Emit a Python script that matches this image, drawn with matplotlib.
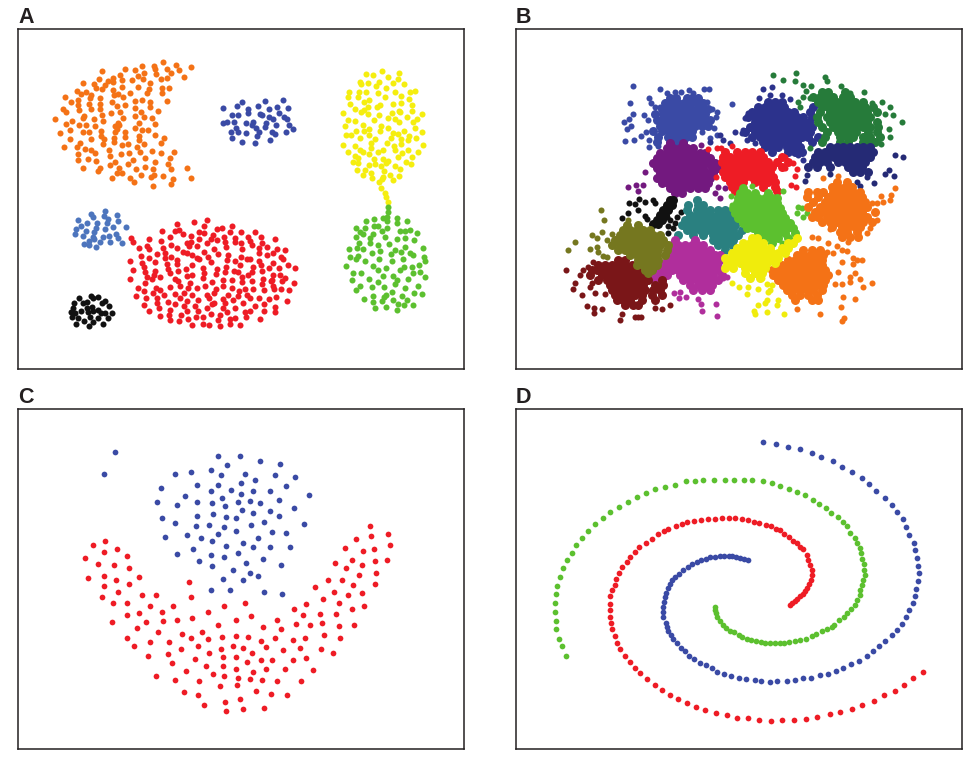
#!/usr/bin/env python3
"""
Four clustering scatter panels (A-D)
Values were read off the picture, in magnified crop units (3 units = 1 pixel)
"""

import matplotlib
matplotlib.use("Agg")
import matplotlib.pyplot as plt

# Panel A, crop origins differ per group
a_orange = [(368,36),(407,46),(453,50),(306,49),(341,48),(346,57),(380,56),(417,59),(285,59),(256,56),(185,62),(313,69),(348,72),(393,68),(293,77),(241,75),(178,86),(220,85),(310,86),(362,88),(382,84),(432,82),(276,91),(245,91),(218,97),(203,92),(128,100),(161,101),(196,104),(330,98),(246,110),(293,111),(168,113),(186,118),(220,119),(326,116),(365,113),(388,113),(111,124),(123,132),(138,127),(153,134),(235,131),(270,129),(321,129),(367,129),(74,140),(149,145),(181,143),(221,136),(248,141),(114,149),(94,155),(148,161),(216,155),(286,152),(305,151),(331,155),(382,153),(113,166),(179,163),(230,168),(256,165),(331,171),(116,181),(68,178),(78,185),(153,177),(181,178),(286,175),(213,188),(241,187),(303,187),(355,184),(186,194),(131,199),(128,204),(286,199),(313,201),(336,203),(46,206),(163,207),(190,212),(250,204),(96,213),(298,219),(345,222),(78,222),(118,226),(138,226),(166,228),(233,220),(224,229),(238,226),(286,235),(306,241),(325,239),(91,241),(128,245),(148,245),(183,244),(230,238),(224,247),(256,247),(61,248),(182,257),(256,262),(296,258),(346,255),(372,264),(89,267),(153,268),(193,266),(222,265),(296,270),(221,277),(121,280),(190,283),(246,284),(263,282),(311,282),(363,280),(111,290),(73,292),(136,296),(154,299),(291,292),(208,299),(166,308),(301,306),(335,302),(402,305),(114,312),(243,312),(266,308),(362,309),(211,318),(315,324),(390,323),(113,330),(144,328),(168,334),(226,337),(280,331),(346,337),(385,341),(128,353),(179,354),(173,363),(211,346),(236,354),(265,341),(288,356),(315,351),(340,357),(393,356),(442,354),(231,370),(246,369),(303,375),(342,375),(333,381),(370,378),(216,383),(270,383),(398,386),(452,385),(281,397),(393,401),(340,407)]
a_blue = [(40,145),(97,125),(82,138),(145,137),(164,123),(219,119),(177,147),(202,142),(234,145),(114,146),(114,160),(65,164),(84,166),(150,161),(155,166),(178,170),(190,178),(206,160),(222,170),(232,176),(72,185),(40,190),(50,186),(109,189),(130,185),(125,196),(169,189),(165,201),(197,196),(236,196),(249,208),(77,205),(139,205),(62,217),(85,217),(109,218),(148,215),(186,216),(196,222),(229,216),(65,233),(140,229),(181,239),(97,245),(135,249)]
a_yellow = [(516,33),(468,43),(488,46),(566,40),(535,52),(449,65),(452,72),(475,70),(506,65),(563,58),(548,68),(581,72),(499,78),(529,83),(416,96),(447,97),(468,96),(505,99),(555,96),(601,97),(616,93),(413,112),(443,112),(526,112),(573,109),(598,118),(461,126),(478,121),(420,132),(550,131),(573,129),(606,135),(510,134),(502,141),(475,142),(434,147),(461,150),(452,155),(546,158),(568,152),(569,157),(607,153),(399,160),(475,163),(508,164),(636,161),(590,170),(413,180),(436,182),(491,180),(535,174),(556,176),(566,187),(621,177),(610,187),(404,198),(458,195),(513,198),(511,212),(478,208),(461,214),(438,212),(535,205),(548,218),(565,222),(581,212),(616,205),(635,215),(408,225),(423,225),(478,226),(449,234),(543,233),(574,236),(596,228),(593,240),(618,234),(496,238),(398,256),(484,250),(530,250),(574,253),(638,254),(434,259),(484,265),(553,258),(555,270),(595,271),(577,279),(450,270),(460,275),(413,276),(503,277),(520,271),(625,276),(478,282),(435,288),(445,293),(565,292),(606,291),(428,307),(444,308),(491,298),(520,296),(535,302),(588,305),(476,314),(494,313),(603,313),(527,310),(556,318),(513,319),(441,329),(464,331),(522,332),(570,328),(483,340),(459,345),(541,345),(568,349),(485,353),(518,350),(515,358),(550,359),(508,367),(513,384),(524,398),(527,412),(535,425)]
a_green = [(534,442),(534,455),(519,473),(530,470),(530,483),(491,477),(469,484),(561,474),(591,483),(561,490),(439,503),(465,505),(493,497),(503,498),(531,503),(449,515),(458,521),(516,514),(570,512),(584,512),(601,511),(620,518),(439,531),(490,523),(481,533),(526,530),(560,537),(586,533),(612,541),(446,549),(479,549),(536,553),(416,566),(441,564),(458,567),(503,556),(556,569),(586,560),(639,563),(486,579),(510,573),(573,577),(601,580),(420,592),(445,587),(439,597),(543,583),(610,585),(641,590),(464,602),(508,598),(545,604),(578,596),(645,602),(409,617),(490,617),(504,630),(527,625),(571,629),(583,622),(605,620),(626,614),(430,638),(454,640),(518,647),(610,640),(630,636),(645,650),(427,659),(476,658),(550,649),(560,660),(555,673),(593,656),(505,666),(450,677),(485,681),(521,680),(586,684),(625,678),(439,690),(546,696),(611,698),(636,703),(528,704),(576,707),(521,712),(461,716),(490,708),(516,722),(489,726),(548,719),(590,719),(565,731),(581,736),(608,735),(494,744),(528,742),(561,751)]
a_red = [(442,59),(402,67),(352,72),(432,78),(472,87),(485,85),(516,77),(213,113),(220,127),(266,117),(305,93),(344,92),(358,90),(368,103),(392,109),(418,95),(432,100),(460,104),(453,116),(472,120),(492,112),(509,95),(544,96),(586,95),(602,110),(524,113),(525,126),(565,110),(570,123),(644,116),(329,111),(333,135),(302,124),(260,137),(268,147),(238,143),(392,125),(388,137),(380,130),(418,118),(410,137),(440,130),(433,155),(462,146),(495,127),(498,142),(543,130),(545,147),(575,134),(605,130),(598,143),(622,142),(652,147),(674,149),(310,145),(315,160),(290,162),(370,155),(352,143),(380,160),(352,180),(332,170),(243,168),(268,173),(211,182),(245,188),(286,187),(315,175),(350,192),(410,175),(395,165),(418,178),(445,172),(453,186),(473,163),(503,165),(500,180),(525,182),(543,170),(562,178),(570,178),(598,160),(598,182),(620,165),(640,160),(664,170),(668,178),(603,194),(640,190),(684,194),(705,203),(658,205),(627,203),(580,202),(575,215),(607,212),(540,195),(497,200),(472,208),(428,203),(433,218),(395,195),(377,207),(322,193),(323,208),(252,200),(256,215),(220,210),(285,212),(283,225),(330,218),(355,213),(380,228),(395,225),(430,235),(467,222),(495,215),(523,212),(535,215),(545,232),(565,225),(610,238),(640,225),(636,240),(660,225),(674,233),(667,243),(702,248),(211,238),(260,232),(275,238),(255,250),(300,230),(345,238),(353,243),(390,250),(455,245),(490,240),(517,241),(547,247),(575,243),(632,243),(640,258),(606,252),(235,264),(253,272),(287,263),(300,270),(280,278),(330,262),(360,258),(385,263),(410,263),(435,257),(467,268),(490,258),(515,265),(536,272),(556,268),(580,267),(612,270),(642,268),(663,268),(686,270),(228,287),(312,285),(292,293),(345,283),(372,278),(397,285),(440,285),(447,295),(462,280),(490,297),(505,285),(535,288),(562,285),(598,293),(627,296),(648,290),(682,302),(258,295),(290,308),(325,305),(360,295),(380,303),(415,300),(455,313),(463,308),(495,310),(518,300),(548,308),(570,295),(612,312),(253,316),(345,313),(372,318),(405,318),(440,323),(490,325),(500,335),(525,323),(585,318),(645,322),(645,337),(266,334),(297,325),(330,330),(380,332),(363,345),(415,332),(452,342),(480,345),(555,336),(570,333),(612,332),(300,347),(327,345),(385,356),(408,352),(430,352),(475,360),(510,358),(525,355),(557,352),(600,357),(330,360),(358,364),(397,375),(428,372),(448,375),(480,378),(510,372),(540,375)]
a_light = [(135,34),(93,42),(100,50),(170,46),(132,48),(54,60),(145,58),(175,64),(81,68),(110,70),(140,70),(64,78),(47,87),(77,92),(108,85),(136,88),(160,82),(198,82),(45,102),(70,107),(103,97),(100,110),(130,110),(146,107),(167,102),(174,115),(88,122),(72,133),(87,135),(103,117),(119,127),(150,127),(187,128),(109,142)]
a_black = [(57,293),(94,287),(113,292),(136,303),(43,310),(70,310),(80,305),(100,295),(127,310),(146,318),(40,325),(62,332),(97,322),(100,332),(115,330),(83,335),(34,337),(36,350),(157,340),(135,340),(122,338),(55,355),(90,350),(115,355),(143,353),(71,363),(100,367),(48,372),(86,377),(130,372),(80,325),(45,340)]

# Panel B, dense blobs kept as (y, [x, x, ...]) rows plus loose points
b_blue_rows = [(115,[345,362,395,412,428]),(130,[330,350,370,388,405,425,445]),(147,[320,338,355,372,390,408,425,442,460]),(163,[300,325,342,360,377,395,412,430,450]),(180,[305,322,340,357,375,392,410,428,445,465]),(197,[315,332,350,368,385,402,420,440,458]),(213,[295,322,342,360,378,395,412]),(230,[310,340,358,375,393,412]),(245,[305,345,365,385])]
b_blue_loose = [(235,77),(316,87),(224,128),(233,163),(207,185),(222,178),(217,208),(229,198),(210,243),(237,240),(531,131),(283,113),(288,130),(268,165),(278,180),(272,215),(258,227),(283,240),(282,262),(310,258),(300,140),(315,140),(335,100),(360,97),(378,95),(403,90),(415,100),(447,88),(461,88),(425,120),(455,127),(470,147),(485,155),(482,172),(478,205),(485,225),(440,215),(465,235)]
b_navy_rows = [(125,[640,660,680]),(140,[610,630,650,668,686,775]),(155,[590,608,626,644,662,680,698,716,765]),(170,[580,600,618,636,654,672,690,708,726,744,770]),(185,[600,618,636,654,672,690,708,726,744,762]),(200,[585,610,628,646,664,682,700,718,736,754,772]),(215,[570,600,620,638,656,674,692,710,728,746,764]),(230,[590,615,632,650,668,686,704,722,740,758,790]),(245,[625,645,663,681,705,725,770]),(260,[630,650,670,695,715,735]),(275,[650,700,720,740])]
b_navy_loose = [(625,87),(650,82),(645,105),(680,105),(705,118),(612,113),(540,217),(465,245),(495,225),(505,240),(525,248),(570,175),(580,160),(560,220),(575,240),(600,250),(565,210),(730,285),(745,300)]
b_forest_rows = [(95,[800,820,870]),(110,[775,795,815,835,865,885]),(125,[790,810,828,846,864,882,900,925]),(140,[800,820,838,856,874,892,910,930,955]),(155,[795,825,843,861,879,897,915,935,965]),(170,[785,815,833,851,869,887,905,925,945]),(185,[790,825,843,861,879,897,915,935,965]),(200,[800,835,853,871,889,907,925,945,970]),(215,[815,850,868,886,904,940,965]),(230,[810,855,875,895,925,945,975]),(245,[800,855,880,925,945,960])]
b_forest_loose = [(654,44),(683,59),(724,38),(720,62),(743,74),(767,77),(752,93),(810,50),(817,62),(858,78),(927,96),(982,125),(1005,141),(952,130),(990,162),(1015,165),(1042,185),(1003,207),(1006,230),(978,252),(765,265),(730,125),(735,140),(745,110),(765,115),(885,100)]
b_dark_rows = [(260,[825,845,865,885,905,925,945]),(275,[790,810,828,846,864,882,900,918,936,955]),(290,[780,800,818,836,854,872,890,908,926,945]),(305,[775,795,815,850,870,890,910,930]),(320,[760,785,825,880,900,920]),(335,[895,915,940])]
b_dark_loose = [(1019,284),(1045,291),(1002,330),(990,342),(1018,349),(958,370),(750,362),(755,345),(825,342),(905,365),(915,378),(935,350)]
b_purple_rows = [(250,[345,385]),(265,[335,355,375,395,415]),(280,[315,335,355,375,395,415,435,450]),(295,[305,325,345,365,385,405,425,445,465]),(310,[295,318,338,358,378,398,418,438,458,480]),(325,[305,325,345,365,385,405,425,445,470,490]),(340,[315,335,355,375,395,415,435,455,475]),(355,[305,325,345,365,385,405,425,445,465]),(370,[320,340,360,380,400,420,440,460]),(385,[345,365,385,405,430,450]),(400,[360,380])]
b_purple_loose = [(270,336),(220,381),(243,375),(265,375),(250,393),(437,255),(490,380),(510,385),(480,400),(495,415)]
b_red_rows = [(275,[510,545,570,590,615]),(290,[505,525,545,565,585,605,625,680]),(305,[500,520,540,560,580,600,620,640,665,700]),(320,[510,530,550,570,590,610,630,650,680]),(335,[505,525,545,565,585,605,625,645]),(350,[510,530,550,570,590,610,630,655]),(365,[525,545,565,600,620,640,660]),(380,[530,550,625,660]),(392,[540,555,665])]
b_red_loose = [(460,268),(485,265),(497,264),(530,258),(482,350),(725,328),(720,348),(708,375),(724,380),(690,290),(715,308),(690,325)]
b_black_rows = [(420,[345,355]),(435,[335,350]),(450,[325,340]),(465,[315,330]),(480,[305,320]),(492,[295,310])]
b_black_loose = [(223,430),(240,432),(253,417),(270,425),(295,420),(300,430),(250,450),(270,468),(275,478),(218,460),(200,473),(345,480),(360,490),(355,505),(340,520),(365,470),(378,455),(340,498),(335,470)]
b_teal_rows = [(420,[425]),(435,[400,430,445]),(450,[395,425,445,465,490,510]),(465,[405,425,445,465,485,505,525]),(480,[390,410,430,450,470,490,510,530]),(495,[380,400,420,440,460,480,500,520,540]),(510,[395,415,435,455,475,495,515,535,560]),(525,[370,415,445,475,495,515,535,550]),(540,[475,495,515,535]),(555,[490,510,530]),(570,[510])]
b_lime_rows = [(385,[565]),(400,[555,575,600,640]),(415,[550,570,590,610,630,650,665]),(430,[545,565,585,605,625,645,665]),(445,[535,555,575,595,615,635,655,675]),(460,[540,560,580,600,620,640,660,680]),(475,[550,570,590,610,630,650,670,690]),(490,[565,585,605,625,645,665,685,705]),(505,[575,595,615,635,655,675,695,715]),(520,[610,630,650,670,690,720]),(535,[630,650,670,700]),(550,[650])]
b_lime_loose = [(528,408),(555,405),(590,378),(685,392),(730,440),(742,445),(725,460),(745,470),(755,460),(680,550),(690,560),(530,435)]
b_orange_rows = [(365,[845,875]),(380,[830,850,870,890]),(395,[760,785,805,835,855,875,895,915]),(410,[755,790,820,840,860,880,900,920]),(425,[775,810,830,850,870,890,910,930]),(440,[760,795,815,835,855,875,895,915,935]),(455,[780,800,820,840,860,880,900,920,960]),(470,[770,790,815,835,855,875,895,915,935]),(485,[800,825,845,865,885,905,925,950]),(500,[830,860,880,900,915]),(515,[855,875,905]),(530,[860,885,910])]
b_orange_loose = [(1020,384),(1008,406),(1005,420),(978,408),(985,425),(965,428),(950,430),(965,480),(945,505),(935,518),(770,530),(790,535),(825,508),(880,545),(850,348),(805,355)]
b_magenta_rows = [(540,[360,420]),(555,[350,370,390,410,430,445]),(570,[345,365,385,405,425,445,465]),(585,[340,360,380,400,420,440,460,480,495]),(600,[335,355,375,395,415,435,455,475,495]),(615,[325,345,365,385,405,425,445,465,485]),(630,[310,330,350,370,390,410,430,450,470,490]),(645,[295,315,335,375,395,415,435,455,475,500]),(660,[300,320,385,405,425,445,465,490]),(675,[315,405,430,450,470]),(690,[415,440,465])]
b_magenta_loose = [(358,700),(375,695),(372,715),(393,710),(430,718),(438,732),(483,733),(440,753),(485,768),(505,655),(515,650)]
b_maroon_rows = [(600,[190,210]),(615,[130,150,170,190,210,230]),(630,[110,125,145,165,185,205,225,245]),(645,[105,140,160,180,200,220,240,260]),(660,[130,155,175,195,215,235,255,280,320]),(675,[165,185,205,225,245,265,300,325]),(690,[170,190,210,230,250,270,295,315]),(705,[180,200,220,240,260,290,320]),(720,[185,205,225,260,300]),(735,[210,235,250])]
b_maroon_loose = [(32,631),(75,645),(60,670),(53,688),(80,705),(95,738),(118,745),(118,760),(140,748),(200,763),(195,780),(240,770),(258,772),(248,772),(300,745),(320,748),(345,735),(85,630),(100,620),(115,605),(110,668),(105,680),(120,700),(150,703)]
b_olive_rows = [(495,[215,250]),(510,[205,225,245,265,285]),(525,[195,215,235,255,275,295,315]),(540,[180,205,225,245,265,285,305,325]),(555,[170,195,215,235,255,275,295,315,340]),(570,[190,210,230,250,270,290,310,335]),(585,[225,245,265,285,305,330]),(600,[250,270,290,310]),(615,[245,265,285,305]),(630,[270,290]),(640,[280])]
b_olive_loose = [(137,449),(148,480),(140,515),(110,525),(125,535),(155,540),(172,522),(60,546),(40,570),(105,568),(125,560),(130,575),(145,588),(155,590),(220,480)]
b_orange2_rows = [(570,[745,770,795]),(585,[725,745,765,785,805]),(600,[700,720,740,760,780,800]),(615,[680,700,720,740,760,780,800]),(630,[650,670,690,710,730,750,770,790,810]),(645,[655,675,695,715,735,755,775,795,820]),(660,[670,690,710,730,750,770,790,810]),(675,[685,705,725,745,765,785,805]),(690,[695,715,735,755,775,800]),(705,[710,735,760,785]),(720,[720,770,790])]
b_orange2_loose = [(820,548),(845,558),(860,570),(875,572),(815,575),(835,580),(862,605),(893,595),(905,600),(922,600),(895,612),(850,635),(900,638),(885,650),(915,656),(840,672),(860,672),(885,665),(950,668),(925,680),(863,712),(900,718),(858,742),(868,775),(860,782),(795,763),(727,747)]
b_yellow_rows = [(535,[590,605,725]),(550,[565,585,605,625,700,715]),(565,[545,565,585,605,625,645,680,700]),(580,[530,550,570,590,610,630,650,670,690]),(595,[510,530,550,570,590,610,630,650,670]),(610,[515,535,555,575,595,615,635,660]),(625,[510,535,570,590,610,630]),(640,[570,600,620]),(655,[585,615])]
b_yellow_loose = [(530,668),(552,682),(578,680),(575,702),(608,688),(620,655),(635,672),(650,675),(638,695),(635,720),(630,730),(670,720),(665,735),(608,735),(597,752),(600,762),(636,757),(686,763),(645,690)]

# Panel C
c_blue = [(135,36),(101,103),(445,48),(509,48),(569,62),(629,71),(472,74),(422,89),(362,97),(315,103),(452,106),(525,103),(616,106),(676,112),(555,121),(512,129),(445,135),(382,135),(272,144),(649,138),(422,153),(482,150),(549,153),(599,153),(512,161),(345,167),(455,173),(716,164),(262,186),(322,194),(382,186),(425,188),(465,197),(505,186),(539,183),(569,188),(626,180),(515,209),(672,203),(429,221),(549,218),(599,212),(275,235),(382,229),(469,232),(499,235),(626,229),(315,250),(378,258),(418,255),(462,261),(542,255),(582,247),(702,253),(499,273),(606,276),(445,282),(649,279),(285,290),(352,285),(392,293),(425,302),(565,293),(519,308),(469,317),(549,322),(599,320),(659,320),(368,328),(322,343),(422,346),(462,352),(505,340),(388,363),(579,357),(529,369),(425,378),(632,375),(489,389),(539,398),(565,407),(459,416),(519,421),(422,451),(479,451),(582,456),(636,462)]
c_red = [(105,302),(68,314),(101,337),(141,328),(44,354),(171,349),(84,372),(131,375),(178,384),(54,413),(101,407),(138,419),(208,410),(101,439),(178,433),(145,456),(95,471),(215,465),(258,465),(358,427),(362,471),(128,488),(171,488),(241,497),(308,497),(462,497),(525,488),(171,526),(208,520),(275,515),(415,517),(125,547),(228,547),(278,544),(322,541),(365,535),(499,541),(542,529),(445,555),(201,564),(579,561),(622,541),(632,567),(265,576),(335,582),(395,576),(171,593),(362,593),(415,596),(455,590),(499,587),(535,590),(241,605),(298,605),(572,602),(616,593),(669,599),(706,593),(191,619),(385,619),(489,619),(519,625),(589,622),(332,628),(452,628),(639,631),(689,625),(752,628),(295,643),(418,640),(545,640),(789,640),(235,649),(375,657),(459,651),(499,651),(572,660),(606,660),(669,660),(709,654),(305,669),(532,666),(408,678),(459,678),(499,686),(589,686),(646,686),(729,689),(348,692),(549,695),(429,701),(258,707),(462,707),(505,713),(539,718),(575,721),(622,724),(692,724),(315,721),(388,724),(449,739),(502,736),(342,756),(385,765),(559,753),(602,762),(652,765),(465,785),(509,777),(402,794),(519,806),(582,803),(469,814),(899,258),(953,282),(903,287),(859,296),(960,314),(826,325),(913,328),(879,334),(846,360),(916,363),(950,360),(796,369),(876,375),(829,384),(919,398),(866,404),(773,419),(816,419),(736,442),(849,436),(916,433),(793,456),(876,459),(833,465),(759,477),(806,488),(709,491),(883,497),(672,506),(846,506),(699,526),(749,523),(799,523),(679,552),(719,555),(756,550),(806,558),(853,555),(763,584),(809,593)]

# Panel D
d_blue = [(669,36),(707,41),(744,52),(779,57),(815,70),(843,82),(879,94),(906,111),(935,127),(965,145),(988,161),(1009,183),(1034,204),(1055,226),(1072,246),(1089,268),(1097,291),(1108,315),(1122,338),(1126,361),(1131,384),(1133,408),(1137,430),(1135,453),(1129,476),(1125,498),(1118,520),(1108,540),(1097,561),(1085,581),(1070,600),(1055,616),(1036,633),(1017,649),(998,664),(981,677),(956,693),(932,702),(910,713),(889,724),(864,732),(841,735),(813,743),(788,745),(765,751),(740,753),(712,754),(689,756),(664,753),(645,751),(618,747),(597,744),(574,737),(553,731),(532,725),(517,715),(498,705),(481,699),(461,687),(448,677),(436,664),(423,655),(412,640),(400,626),(394,616),(385,604),(380,592),(377,578),(370,560),(370,545),(370,532),(373,515),(376,500),(379,488),(385,475),(390,462),(396,450),(404,440),(416,432),(430,421),(443,411),(455,403),(470,397),(482,389),(497,386),(510,381),(525,381),(540,379),(553,379),(567,379),(575,379),(588,380),(600,383),(612,386),(624,390)]
d_red = [(750,524),(757,519),(765,513),(772,506),(780,499),(788,491),(795,484),(802,474),(808,462),(813,450),(817,435),(815,420),(810,405),(805,390),(800,375),(790,358),(780,350),(770,340),(760,332),(746,320),(732,312),(720,300),(708,297),(692,289),(677,284),(658,278),(642,275),(624,271),(606,267),(586,265),(566,265),(546,264),(526,266),(505,267),(484,270),(463,272),(442,277),(427,283),(408,288),(385,297),(371,304),(353,313),(335,327),(318,339),(297,352),(284,367),(269,380),(260,396),(246,412),(236,430),(228,447),(224,465),(217,481),(210,499),(210,522),(209,540),(210,560),(213,580),(217,598),(225,617),(232,639),(240,657),(255,677),(269,695),(286,715),(299,730),(322,747),(345,764),(367,779),(390,795),(415,808),(440,820),(469,830),(496,840),(528,850),(561,856),(590,863),(624,865),(658,871),(692,874),(727,871),(763,869),(797,866),(830,862),(869,853),(899,846),(935,837),(967,826),(1001,812),(1032,796),(1064,783),(1091,764),(1118,745),(1149,727)]
d_green = [(78,679),(65,648),(57,626),(47,598),(47,572),(45,546),(44,518),(47,492),(51,467),(61,441),(70,414),(80,389),(95,368),(108,344),(126,323),(143,303),(166,281),(189,264),(210,246),(236,232),(265,217),(292,200),(318,190),(345,178),(376,171),(404,164),(437,153),(465,153),(490,149),(523,149),(555,149),(582,149),(612,149),(637,151),(669,153),(697,160),(719,168),(748,177),(771,185),(795,196),(820,211),(837,221),(857,235),(874,249),(893,261),(908,275),(922,289),(929,309),(945,323),(950,340),(961,355),(964,370),(965,386),(973,402),(973,420),(976,434),(970,450),(965,465),(961,480),(960,495),(950,510),(944,525),(934,537),(922,548),(912,560),(897,571),(881,585),(875,590),(860,598),(847,603),(827,613),(815,618),(797,626),(780,630),(765,634),(748,637),(733,638),(720,639),(706,639),(690,638),(676,638),(662,636),(648,634),(632,630),(620,627),(607,620),(597,615),(583,607),(570,602),(559,594),(549,584),(540,572),(532,560),(528,550),(526,540),(526,532)]

RED = '#ee1c25'
BLUE = '#3a4aa5'
GREEN = '#5cc02f'
DOT = 19


def rows_to_points(rows):
    """Expand (y, [x, ...]) rows"""
    return [(x, y) for y, xs in rows for x in xs]


def draw(ax, pts, crop_x, crop_y, color, s=DOT):
    """Crop units to picture pixels, which are the axes data units here"""
    xs = [crop_x + p[0] / 3 for p in pts]
    ys = [crop_y + p[1] / 3 for p in pts]
    ax.scatter(xs, ys, s=s, color=color, linewidths=0, zorder=2)


def make_panel(fig, left, top, label):
    W, H = 972, 759
    right, bottom = left + 446, top + 340
    ax = fig.add_axes([left / W, 1 - bottom / H, 446 / W, 340 / H])
    ax.set_xlim(left, right)
    ax.set_ylim(bottom, top)
    ax.set_xticks([])
    ax.set_yticks([])
    for sp in ax.spines.values():
        sp.set_linewidth(1.1)
        sp.set_color('#231f20')
    fig.text(left / W, 1 - (top - 1) / H, label, fontsize=15.5, fontweight='bold',
             family=['Liberation Sans Narrow', 'Liberation Sans'], color='#231f20',
             ha='left', va='bottom')
    return ax


fig = plt.figure(figsize=(9.72, 7.59), dpi=100)

ax_a = make_panel(fig, 18, 29, 'A')
ax_b = make_panel(fig, 516, 29, 'B')
ax_c = make_panel(fig, 18, 409, 'C')
ax_d = make_panel(fig, 516, 409, 'D')

# Panel A
draw(ax_a, a_orange, 40, 50, '#f47216')
draw(ax_a, a_blue, 210, 60, BLUE)
draw(ax_a, a_yellow, 210, 60, '#f5ee0f')
draw(ax_a, a_green, 210, 60, GREEN)
draw(ax_a, a_red, 60, 200, RED)
draw(ax_a, a_light, 60, 200, '#4d75bd')
draw(ax_a, a_black, 60, 200, '#111111')

# Panel B, later groups sit on top
b_groups = [
    (b_blue_rows, b_blue_loose, BLUE),
    (b_navy_rows, b_navy_loose, '#2c328c'),
    (b_forest_rows, b_forest_loose, '#267b3a'),
    (b_dark_rows, b_dark_loose, '#252a75'),
    (b_purple_rows, b_purple_loose, '#73197f'),
    (b_red_rows, b_red_loose, RED),
    (b_black_rows, b_black_loose, '#111111'),
    (b_teal_rows, [], '#2a8080'),
    (b_lime_rows, b_lime_loose, GREEN),
    (b_orange_rows, b_orange_loose, '#f47216'),
    (b_magenta_rows, b_magenta_loose, '#b02e9c'),
    (b_maroon_rows, b_maroon_loose, '#7a1618'),
    (b_olive_rows, b_olive_loose, '#75771f'),
    (b_orange2_rows, b_orange2_loose, '#f47216'),
    (b_yellow_rows, b_yellow_loose, '#f0ec0c'),
]
for rows, loose, color in b_groups:
    # the row points stand for many overlapping dots, so they are drawn larger
    draw(ax_b, rows_to_points(rows), 555, 60, color, s=42)
    draw(ax_b, loose, 555, 60, color, s=DOT)

# Panel C
draw(ax_c, c_blue, 70, 440, BLUE, s=17)
draw(ax_c, c_red, 70, 440, RED, s=17)

# Panel D
draw(ax_d, d_blue, 540, 430, BLUE, s=17)
draw(ax_d, d_red, 540, 430, RED, s=17)
draw(ax_d, d_green, 540, 430, GREEN, s=17)

fig.savefig('out.png', dpi=100)
